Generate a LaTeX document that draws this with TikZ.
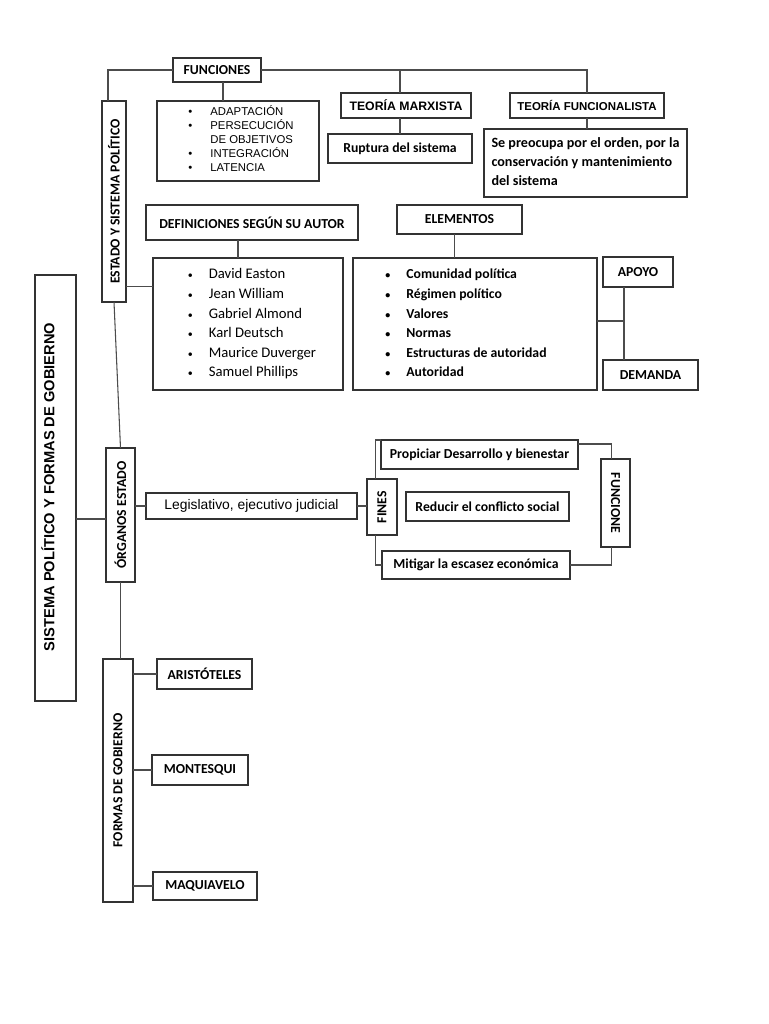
\documentclass[tikz,border=0pt]{standalone}
\usepackage{fontspec}
\usepackage{graphicx}
\usepackage{tikz}
\newfontfamily\calfont{Carlito}
\newfontfamily\arialfont{Liberation Sans}
\usetikzlibrary{calc}
\newcommand\punto{{\fontsize{7.5}{7.5}\selectfont •}}
\tikzset{
	caja/.style={draw=black!80, line width=0.9pt, fill=white, inner sep=0pt, outer sep=0pt},
	sz/.style 2 args={minimum width=#1*0.75pt, minimum height=#2*0.75pt},
	linea/.style={draw=black!70, line width=0.8pt},
	negrita/.style={font=\calfont\bfseries\fontsize{10.3}{12}\selectfont},
	arial/.style={font=\arialfont\fontsize{10.4}{12}\selectfont}
}

\begin{document}
\begin{tikzpicture}[x=0.75pt, y=-0.75pt]
		%%%%% START %%%%%
		
		\fill[white] (0, 0) rectangle (768, 1024);
		\useasboundingbox (0, 0) rectangle (768, 1024);
		
		\node[caja, sz={41}{426}] (sistema) at (55.5, 488) {};
		\node[font=\arialfont\bfseries\fontsize{11}{13}\selectfont] (sistemaTxt) at (48, 487) {\rotatebox{90}{SISTEMA POLÍTICO Y FORMAS DE GOBIERNO}};
		
		\node[caja, sz={24}{201}, negrita] (estado) at (114, 201.5) {\rotatebox{90}{ESTADO Y SISTEMA POLÍTICO}};
		\node[caja, sz={88}{24}, negrita] (funciones) at (217, 70) {FUNCIONES};
		\node[caja, sz={162}{80}, font=\arialfont\fontsize{8.5}{10.5}\selectfont] (adapta) at (238, 141) {\begin{tabular}{@{\hspace{4.5pt}}l@{\hspace{13.5pt}}l@{}}•&ADAPTACIÓN\\•&PERSECUCIÓN\\&DE OBJETIVOS\\•&INTEGRACIÓN\\•&LATENCIA\end{tabular}};
		
		\node[caja, sz={130}{25}, font=\arialfont\bfseries\fontsize{9.2}{11}\selectfont] (marx) at (406, 105.5) {TEORÍA MARXISTA};
		\node[caja, sz={144}{29}, negrita] (ruptura) at (400, 148.5) {Ruptura del sistema};
		\node[caja, sz={154}{25}, font=\arialfont\bfseries\fontsize{8.6}{11}\selectfont] (funcional) at (587, 105.5) {TEORÍA FUNCIONALISTA};
		\node[caja, sz={203}{68}, font=\calfont\bfseries\fontsize{10.6}{14.1}\selectfont] (preocupa) at (585.5, 163) {\begin{tabular}{@{}l@{}}Se preocupa por el orden, por la\\conservación y mantenimiento\\del sistema\end{tabular}};
		
		\node[caja, sz={212}{35}, negrita] (defHead) at (252, 222.5) {DEFINICIONES SEGÚN SU AUTOR};
		\node[caja, sz={190}{132}, font=\calfont\fontsize{11}{14.7}\selectfont] (defList) at (248, 324) {\begin{tabular}{@{\hspace{6pt}}l@{\hspace{12pt}}l@{}}\punto&David Easton\\\punto&Jean William\\\punto&Gabriel Almond\\\punto&Karl Deutsch\\\punto&Maurice Duverger\\\punto&Samuel Phillips\end{tabular}};
		\node[caja, sz={125}{29}, negrita] (elemHead) at (459.5, 219.5) {ELEMENTOS};
		\node[caja, sz={244}{132}, font=\calfont\bfseries\fontsize{10.3}{14.7}\selectfont] (elemList) at (475, 324) {\begin{tabular}{@{}l@{\hspace{12pt}}l@{\hspace{13.5pt}}}\punto&Comunidad política\\\punto&Régimen político\\\punto&Valores\\\punto&Normas\\\punto&Estructuras de autoridad\\\punto&Autoridad\end{tabular}};
		\node[caja, sz={70}{30}, negrita] (apoyo) at (638, 272) {APOYO};
		\node[caja, sz={95}{30}, negrita] (demanda) at (650.5, 375) {DEMANDA};
		\coordinate (nudo) at (624, 321);
		
		\node[caja, sz={29}{134}, negrita] (organos) at (120.5, 515) {\rotatebox{90}{ÓRGANOS ESTADO}};
		\node[caja, sz={211}{26}, arial] (legis) at (251.5, 506) {Legislativo, ejecutivo judicial};
		\node[caja, sz={30}{56}, negrita] (fines) at (382, 507) {\rotatebox{90}{FINES}};
		\node[caja, sz={197}{29}, negrita] (propiciar) at (479.5, 454.5) {Propiciar Desarrollo y bienestar};
		\node[caja, sz={163}{29}, negrita] (reducir) at (487.5, 506.5) {Reducir el conflicto social};
		\node[caja, sz={188}{28}, negrita] (mitigar) at (476, 565) {Mitigar la escasez económica};
		\node[caja, sz={29}{88}, negrita] (funcione) at (615.5, 503) {\rotatebox{-90}{FUNCIONE}};
		
		\node[caja, sz={30}{243}, negrita] (formas) at (118, 780.5) {\rotatebox{90}{FORMAS DE GOBIERNO}};
		\node[caja, sz={95}{30}, negrita] (aristo) at (204.5, 674) {ARISTÓTELES};
		\node[caja, sz={96}{30}, negrita] (montes) at (200, 770) {MONTESQUI};
		\node[caja, sz={104}{28}, negrita] (maquia) at (205, 886) {MAQUIAVELO};
		
		\draw[linea] ([xshift=-4.5pt]estado.north) |- (funciones.west);
		\draw[linea] (funciones.east) -| (funcional.north);
		\draw[linea] (marx.north -| ruptura.north) -- (ruptura.north |- funciones.east);
		\draw[linea] (marx.south -| ruptura.north) -- (ruptura.north);
		\draw[linea] (funcional.south) -- (funcional.south |- preocupa.north);
		\draw[linea] ([xshift=4.5pt]funciones.south) -- ([xshift=4.5pt]funciones.south |- adapta.north);
		
		\draw[linea] ([yshift=-64pt]estado.east) -- ([yshift=-64pt]estado.east -| defList.west);
		\draw[linea] ([xshift=-7.5pt]defList.north) -- ([xshift=-7.5pt]defList.north |- defHead.south);
		\draw[linea] ([xshift=-4pt]elemHead.south) -- ([xshift=-4pt]elemHead.south |- elemList.north);
		\draw[linea] (elemList.east |- nudo) -- (nudo);
		\draw[linea] (nudo |- apoyo.south) -- (nudo |- demanda.north);
		
		\draw[linea] (estado.south) -- (organos.north);
		\draw[linea] ([yshift=-3pt]organos.west) -- ([yshift=-3pt]organos.west -| sistema.east);
		\draw[linea] (legis.west) -- (legis.west -| organos.east);
		\draw[linea] (legis.east) -- (legis.east -| fines.west);
		\draw[linea] ([xshift=-5pt]fines.north) |- (propiciar.north west);
		\draw[linea] ([xshift=-5pt]fines.south) |- (mitigar.west);
		\draw[linea] ([yshift=-3pt]propiciar.north east) -| ([xshift=-3pt]funcione.north);
		\draw[linea] (mitigar.east) -| ([xshift=-3pt]funcione.south);
		
		\draw[linea] (organos.south) -- (organos.south |- formas.north);
		\draw[linea] (aristo.west) -- (aristo.west -| formas.east);
		\draw[linea] (montes.west) -- (montes.west -| formas.east);
		\draw[linea] (maquia.west) -- (maquia.west -| formas.east);
		
		%%%%% END %%%%%
\end{tikzpicture}
\end{document}
